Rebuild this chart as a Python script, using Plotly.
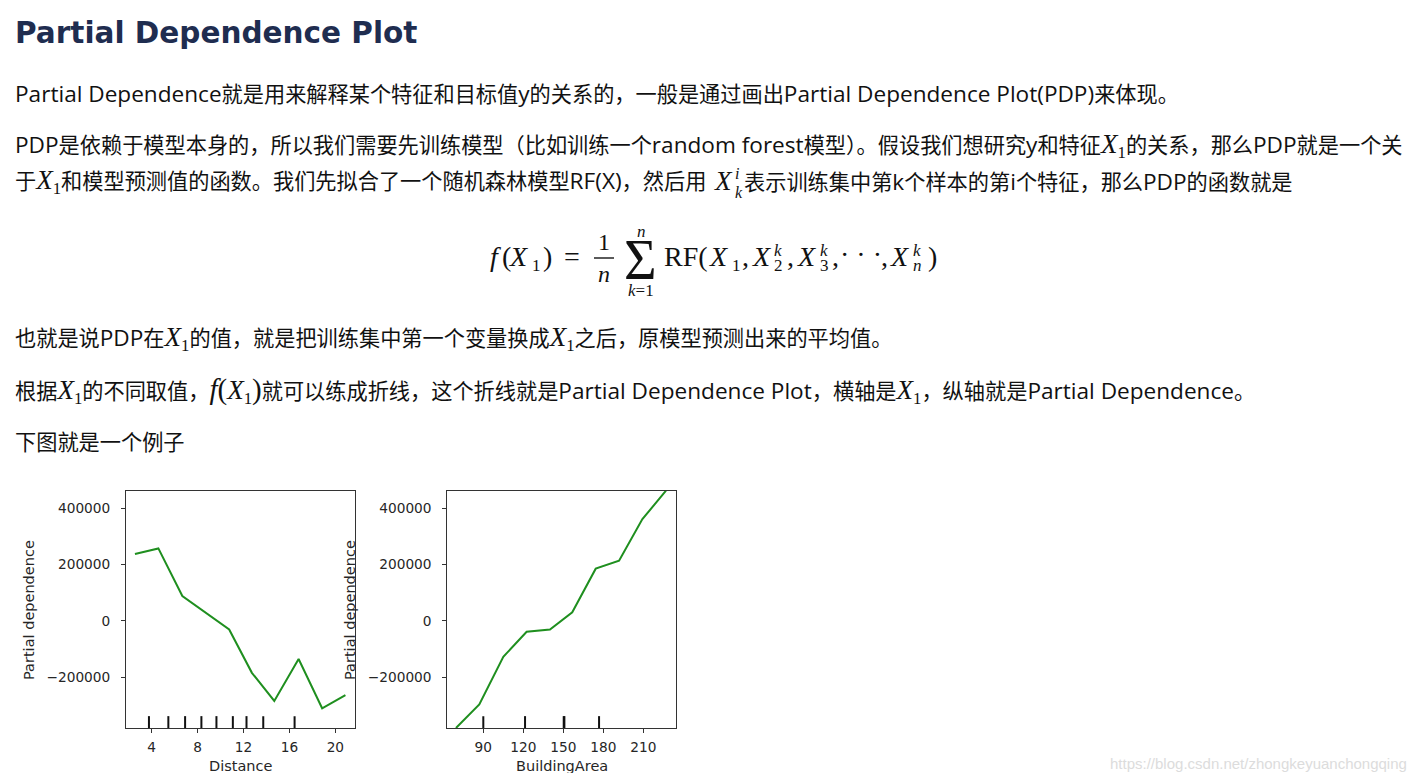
import plotly.graph_objects as go

W, H = 1417, 781
OFF = 8  # default body margin of the page around the figure

# partial dependence of price on Distance
distance_x = [2.54, 4.58, 6.67, 8.72, 10.75, 12.73, 14.68, 16.80, 18.85, 20.88]
distance_pd = [237000, 257000, 88000, 28000, -31000, -185000, -285000, -136000, -311000, -264000]
distance_deciles = [3.76, 5.45, 6.91, 8.33, 9.64, 11.07, 12.26, 13.72, 16.45]
distance_ticks = [4, 8, 12, 16, 20]

# partial dependence of price on BuildingArea
area_x = [69.5, 87.0, 105.0, 122.5, 140.0, 156.7, 174.3, 191.8, 209.3, 227.0]
area_pd = [-381000, -297000, -128000, -39000, -31000, 30000, 185000, 213000, 361000, 462000]
area_deciles = [90.0, 121.3, 150.3, 150.8, 176.8]
area_ticks = [90, 120, 150, 180, 210]

pd_ticks = [400000, 200000, 0, -200000]
pd_ticktext = ["400000", "200000", "0", "\u2212200000"]
pd_range = [-381000, 462000]

BODY = "Open Sans, Noto Sans CJK SC"
MATHF = "Liberation Serif"
MPL = "DejaVu Sans"

FW, FH = W - 2 * OFF, H - 2 * OFF


def px(x):
    return (x - OFF) / FW


def py(y):
    return 1 - (y - OFF) / FH


annotations = []
shapes = []


def note(text, x, y, size=21.2, family=BODY, anchor="left", color="#111111", angle=0):
    if anchor == "left":
        x -= 2
    elif anchor == "right":
        x += 2
    annotations.append(dict(
        text=text, x=px(x), y=py(y), xref="paper", yref="paper",
        xanchor=anchor, yanchor="middle", showarrow=False, textangle=angle,
        font=dict(family=family, size=size, color=color),
    ))


def mx(sub="1", size=27):
    # inline X with subscript, typeset like MathJax
    return (f"<span style='font-family:{MATHF};font-size:{size}px'><i>X</i></span>"
            f"<span style='font-family:{MATHF};font-size:24px'><sub>{sub}</sub></span>")


def la(s):
    # latin runs of the page font are a little wider than the CJK ones
    return f"<span style='font-size:22.6px'>{s}</span>"


def mf(s):
    return f"<span style='font-family:{MATHF};font-size:29px'>{s}</span>"


# --- page text ---
note("<b>Partial Dependence Plot</b>", 15, 33, size=29.5, family="DejaVu Sans", color="#1f2d50")
note(la("Partial Dependence") + "就是用来解释某个特征和目标值" + la("y") + "的关系的，一般是通过画出"
     + la("Partial Dependence Plot(PDP)") + "来体现。", 15, 93)
note(la("PDP") + "是依赖于模型本身的，所以我们需要先训练模型（比如训练一个" + la("random forest")
     + "模型）。假设我们想研究" + la("y") + "和特征" + mx() + "的关系，那么" + la("PDP") + "就是一个关", 15, 145)
note("于" + mx() + "和模型预测值的函数。我们先拟合了一个随机森林模型" + la("RF(X)") + "，然后用", 15, 182)
note("<i>X</i>", 714, 181, size=27, family=MATHF)
note("<i>i</i>", 735, 173, size=16, family=MATHF)
note("<i>k</i>", 735, 192, size=16, family=MATHF)
note("表示训练集中第" + la("k") + "个样本的第" + la("i") + "个特征，那么" + la("PDP") + "的函数就是", 744, 182)
note("也就是说" + la("PDP") + "在" + mx() + "的值，就是把训练集中第一个变量换成" + mx()
     + "之后，原模型预测出来的平均值。", 15, 338)
note("根据" + mx() + "的不同取值，" + mf("<i>f</i>(") + mx() + mf(")")
     + "就可以练成折线，这个折线就是" + la("Partial Dependence Plot") + "，横轴是" + mx()
     + "，纵轴就是" + la("Partial Dependence") + "。", 15, 390)
note("下图就是一个例子", 15, 441)

# --- display formula ---
FS, SS = 28, 17
yc, ysub, ysup = 257, 265, 250
note("<i>f</i>", 490, yc, FS, MATHF)
note("(", 502, yc, FS, MATHF)
note("<i>X</i>", 509, yc, FS, MATHF)
note("1", 532, ysub, SS, MATHF)
note(")", 543, yc, FS, MATHF)
note("=", 572, yc, FS, MATHF, anchor="center")
note("1", 603.5, 242, 24, MATHF, anchor="center")
note("<i>n</i>", 603.5, 274, 24, MATHF, anchor="center")
shapes.append(dict(type="line", xref="paper", yref="paper", x0=px(594), x1=px(614),
                   y0=py(258), y1=py(258), line=dict(color="#000000", width=1.3)))
note("\u03a3", 640.5, 260, 56, MATHF, anchor="center")
note("<i>n</i>", 641, 231, SS, MATHF, anchor="center")
note("<i>k</i>=1", 640.5, 290, SS, MATHF, anchor="center")
note("RF(", 664, yc, FS, MATHF)
for xl, xs, sup, sub in [(709, 732, "", "1"), (752, 774, "k", "2"),
                         (797, 820, "k", "3"), (890, 913, "k", "<i>n</i>")]:
    note("<i>X</i>", xl, yc, FS, MATHF)
    note(sub, xs, ysub, SS, MATHF)
    if sup:
        note("<i>" + sup + "</i>", xs, ysup, SS, MATHF)
for xc in [742, 787, 832, 881]:
    note(",", xc, yc, FS, MATHF)
note("\u00b7 \u00b7 \u00b7", 861, yc - 2, FS, MATHF, anchor="center")
note(")", 928, yc, FS, MATHF)

# --- axis titles of the two matplotlib panels ---
note("Partial dependence", 29, 610, 14.5, MPL, anchor="center", color="#262626", angle=-90)
note("Partial dependence", 350, 610, 14.5, MPL, anchor="center", color="#262626", angle=-90)
note("Distance", 240, 766, 14.5, MPL, anchor="center", color="#262626")
note("BuildingArea", 561.5, 766, 14.5, MPL, anchor="center", color="#262626")

note("https://blog.csdn.net/zhongkeyuanchongqing", 1407, 763, 15, "Liberation Sans",
     anchor="right", color="#dcdcdc")

# --- rug of deciles ---
for xref, vals in [("x", distance_deciles), ("x2", area_deciles)]:
    for v in vals:
        shapes.append(dict(type="line", xref=xref, yref=xref.replace("x", "y") + " domain",
                           x0=v, x1=v, y0=0, y1=0.05, line=dict(color="#111111", width=2)))

fig = go.Figure()
fig.add_trace(go.Scatter(x=distance_x, y=distance_pd, mode="lines", xaxis="x", yaxis="y",
                         line=dict(color="#1f8f1f", width=2), showlegend=False))
fig.add_trace(go.Scatter(x=area_x, y=area_pd, mode="lines", xaxis="x2", yaxis="y2",
                         line=dict(color="#1f8f1f", width=2), showlegend=False))

axis_style = dict(showline=True, mirror=True, linecolor="#333333", linewidth=1,
                  ticks="outside", ticklen=4, tickcolor="#333333", showgrid=False,
                  zeroline=False, tickfont=dict(family=MPL, size=13.7, color="#262626"),
                  fixedrange=True)
xstyle = dict(axis_style, ticklabelstandoff=3)
ystyle = dict(axis_style, ticklabelstandoff=8)
ydom = [py(728), py(490.7)]

fig.update_layout(
    width=FW, height=FH,
    margin=dict(l=0, r=0, t=0, b=0),
    paper_bgcolor="white", plot_bgcolor="white",
    showlegend=False,
    xaxis=dict(domain=[px(126), px(354.5)], range=[1.76, 21.67], tickvals=distance_ticks,
               anchor="y", **xstyle),
    yaxis=dict(domain=ydom, range=pd_range, tickvals=pd_ticks, ticktext=pd_ticktext,
               anchor="x", **ystyle),
    xaxis2=dict(domain=[px(447.3), px(676)], range=[63, 234.5], tickvals=area_ticks,
                anchor="y2", **xstyle),
    yaxis2=dict(domain=ydom, range=pd_range, tickvals=pd_ticks, ticktext=pd_ticktext,
                anchor="x2", **ystyle),
    annotations=annotations,
    shapes=shapes,
)

fig.write_html("out.html")
